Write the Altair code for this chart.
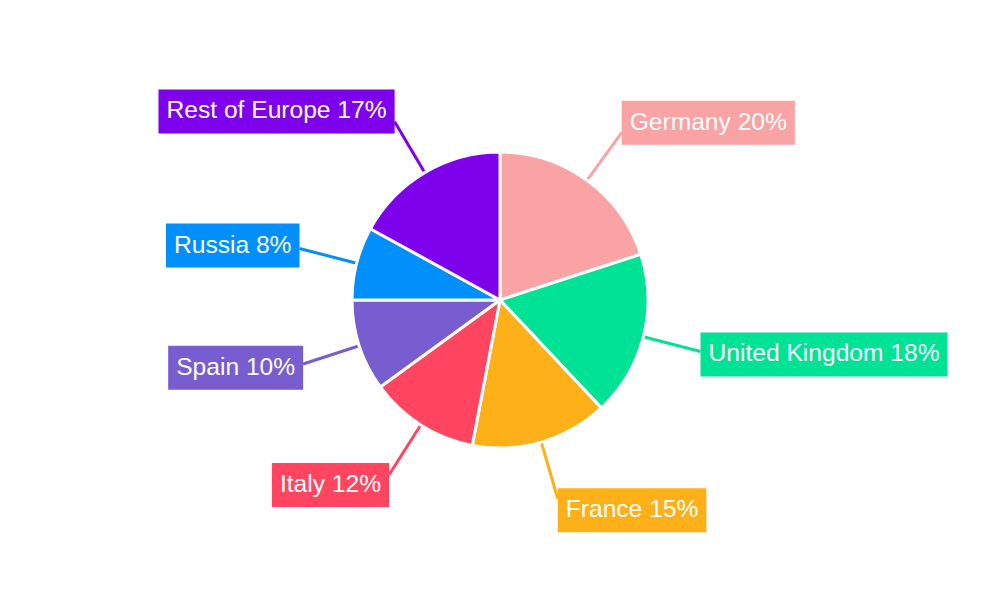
import numpy as np
import pandas as pd
import altair as alt

countries = ["Germany", "United Kingdom", "France", "Italy", "Spain", "Russia", "Rest of Europe"]
shares = [20, 18, 15, 12, 10, 8, 17]
colors = ["#F9A3A4", "#00E396", "#FEB019", "#FF4560", "#775DD0", "#008FFB", "#7D02EB"]

# layout knobs
W, H = 984, 584
R_PIE = 148
R_LABEL = 207
FONT = 24.6
PAD = 8
BOX_H = 44

# Arial / Liberation Sans advance widths (per 1000 em) for label length estimate
cw = {' ': 278, '%': 889, 'G': 778, 'U': 722, 'K': 667, 'F': 611, 'I': 278, 'S': 667,
      'R': 722, 'E': 667, 'a': 556, 'c': 500, 'd': 556, 'e': 556, 'f': 278, 'g': 556,
      'i': 222, 'l': 222, 'm': 833, 'n': 556, 'o': 556, 'p': 556, 'r': 333, 's': 500,
      't': 278, 'u': 556, 'y': 500}


def text_w(s):
    return sum(cw.get(ch, 556) for ch in s) * FONT / 1000


df = pd.DataFrame({'country': countries, 'share': shares})
df['order'] = range(len(df))
df['label'] = df['country'] + ' ' + df['share'].astype(str) + '%'
cum = df['share'].cumsum()
df['mid'] = (cum - df['share'] / 2) / df['share'].sum() * 2 * np.pi

s, c = np.sin(df['mid']), np.cos(df['mid'])
df['lx1'] = R_PIE * s
df['ly1'] = R_PIE * c
df['lx2'] = R_LABEL * s
df['ly2'] = R_LABEL * c

df['bw'] = df['label'].apply(text_w) + 2 * PAD
right = s > 0
df['bx1'] = np.where(right, df['lx2'], df['lx2'] - df['bw'])
df['bx2'] = df['bx1'] + df['bw']
df['bcy'] = df['ly2'] + 12 * c
df['by1'] = df['bcy'] - BOX_H / 2
df['by2'] = df['bcy'] + BOX_H / 2
df['tx'] = df['bx1'] + PAD

xs = alt.Scale(domain=[-W / 2, W / 2])
ys = alt.Scale(domain=[-H / 2, H / 2])
col = alt.Color('country:N', scale=alt.Scale(domain=countries, range=colors), legend=None)

base = alt.Chart(df)

pie = base.mark_arc(outerRadius=R_PIE, stroke='white', strokeWidth=3).encode(
    theta=alt.Theta('share:Q', stack=True),
    order=alt.Order('order:Q'),
    color=col,
)

leaders = base.mark_rule(strokeWidth=3).encode(
    x=alt.X('lx1:Q', scale=xs, axis=None),
    y=alt.Y('ly1:Q', scale=ys, axis=None),
    x2='lx2:Q',
    y2='ly2:Q',
    color=col,
)

boxes = base.mark_rect().encode(
    x=alt.X('bx1:Q', scale=xs, axis=None),
    x2='bx2:Q',
    y=alt.Y('by1:Q', scale=ys, axis=None),
    y2='by2:Q',
    color=col,
)

texts = base.mark_text(align='left', baseline='middle', color='white',
                       font='Liberation Sans', fontSize=FONT).encode(
    x=alt.X('tx:Q', scale=xs, axis=None),
    y=alt.Y('bcy:Q', scale=ys, axis=None),
    text='label:N',
)

chart = alt.layer(leaders, pie, boxes, texts).properties(
    width=W, height=H, padding=0, autosize='none'
).configure_view(stroke=None)

chart.save("out.html", embed_options={"renderer": "svg", "actions": False})
